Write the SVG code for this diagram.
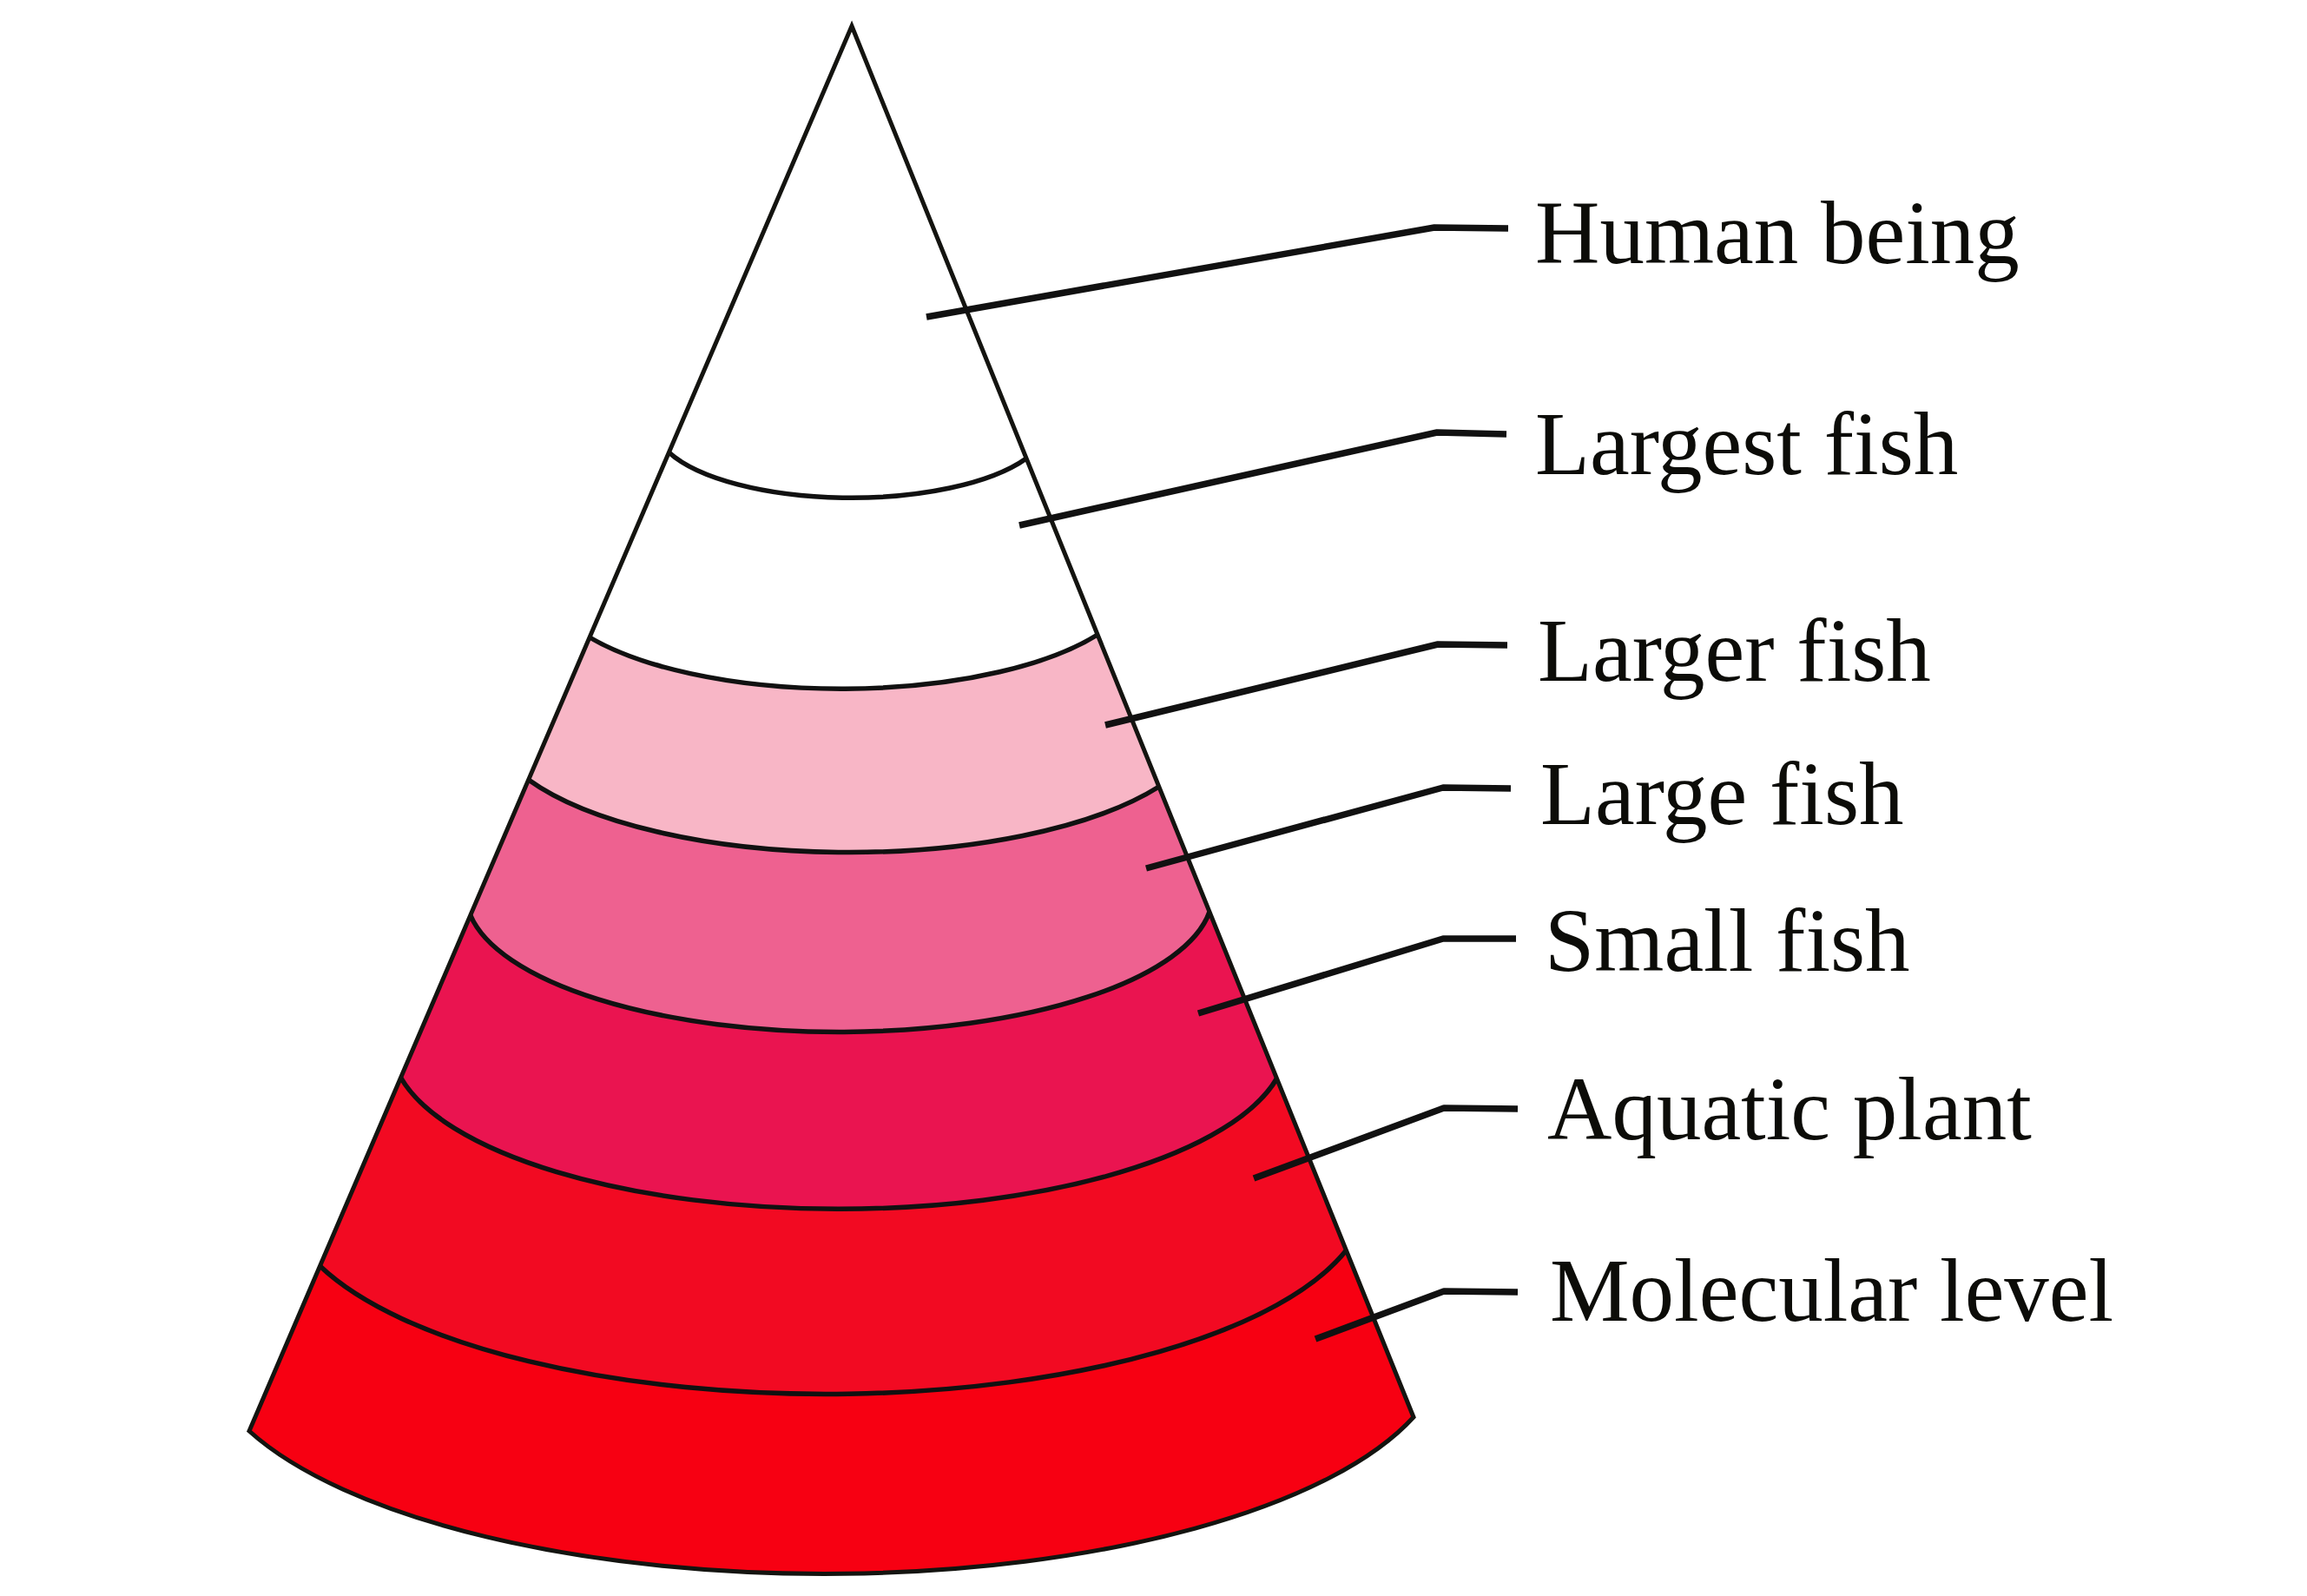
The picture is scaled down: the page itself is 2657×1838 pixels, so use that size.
<svg xmlns="http://www.w3.org/2000/svg" width="2657" height="1838" viewBox="0 0 2657 1838">
<style>
.band{stroke:none}
.arc{fill:none;stroke:#111;stroke-width:5.5}
.outline{fill:none;stroke:#141410;stroke-width:5;stroke-linejoin:miter}
.leader{fill:none;stroke:#111;stroke-width:7.5;stroke-linejoin:round;stroke-linecap:butt}
.lbl{font-family:"Liberation Serif","Times New Roman",serif;font-size:103px;fill:#0c0c08}
</style>
<rect width="2657" height="1838" fill="#ffffff"/>
<g id="cone">
<g id="band-human"><path class="band" fill="#ffffff" d="M981,30 L1182,528 A227 84 0 0 1 770.4,521 Z"/></g>
<g id="band-largest"><path class="band" fill="#ffffff" d="M770.4,521 A227 84 0 0 0 1182,528 L1264,731 A343 127 0 0 1 679,734 Z"/></g>
<g id="band-larger"><path class="band" fill="#f8b6c6" d="M679,734 A343 127 0 0 0 1264,731 L1334.8,906 A415 154 0 0 1 608.7,898 Z"/></g>
<g id="band-large"><path class="band" fill="#ee6190" d="M608.7,898 A415 154 0 0 0 1334.8,906 L1393,1050 A430 159 0 0 1 541.8,1054 Z"/></g>
<g id="band-small"><path class="band" fill="#ea1450" d="M541.8,1054 A430 159 0 0 0 1393,1050 L1470.5,1242 A516 191 0 0 1 461.6,1241 Z"/></g>
<g id="band-aquatic"><path class="band" fill="#f20a22" d="M461.6,1241 A516 191 0 0 0 1470.5,1242 L1550.4,1440 A625 231 0 0 1 368.5,1458 Z"/></g>
<g id="band-molecular"><path class="band" fill="#f70012" d="M368.5,1458 A625 231 0 0 0 1550.4,1440 L1628,1632 A716 265 0 0 1 287,1648 Z"/></g>
<g id="arcs">
<path class="arc" d="M770.4,521 A227 84 0 0 0 1182,528"/>
<path class="arc" d="M679,734 A343 127 0 0 0 1264,731"/>
<path class="arc" d="M608.7,898 A415 154 0 0 0 1334.8,906"/>
<path class="arc" d="M541.8,1054 A430 159 0 0 0 1393,1050"/>
<path class="arc" d="M461.6,1241 A516 191 0 0 0 1470.5,1242"/>
<path class="arc" d="M368.5,1458 A625 231 0 0 0 1550.4,1440"/>
</g>
<path class="outline" d="M981,30 L1628,1632 A716 265 0 0 1 287,1648 Z"/>
</g>
<g id="connectors">
<path class="leader" d="M1067,365 L1652,262 L1737,263"/>
<path class="leader" d="M1174,605 L1655,498 L1735,500"/>
<path class="leader" d="M1273,835 L1656,742 L1736,743"/>
<path class="leader" d="M1320,1000 L1662,907 L1740,908"/>
<path class="leader" d="M1380,1167 L1662,1081 L1746,1081"/>
<path class="leader" d="M1444,1357 L1663,1276 L1748,1277"/>
<path class="leader" d="M1515,1542 L1663,1487 L1748,1488"/>
</g>
<g id="labels">
<g id="label-human"><text class="lbl" x="1768" y="303">Human being</text></g>
<g id="label-largest"><text class="lbl" x="1768" y="546">Largest fish</text></g>
<g id="label-larger"><text class="lbl" x="1771" y="784">Larger fish</text></g>
<g id="label-large"><text class="lbl" x="1774" y="949">Large fish</text></g>
<g id="label-small"><text class="lbl" x="1779" y="1118">Small fish</text></g>
<g id="label-aquatic"><text class="lbl" x="1782" y="1312">Aquatic plant</text></g>
<g id="label-molecular"><text class="lbl" x="1785" y="1521">Molecular level</text></g>
</g>
</svg>
